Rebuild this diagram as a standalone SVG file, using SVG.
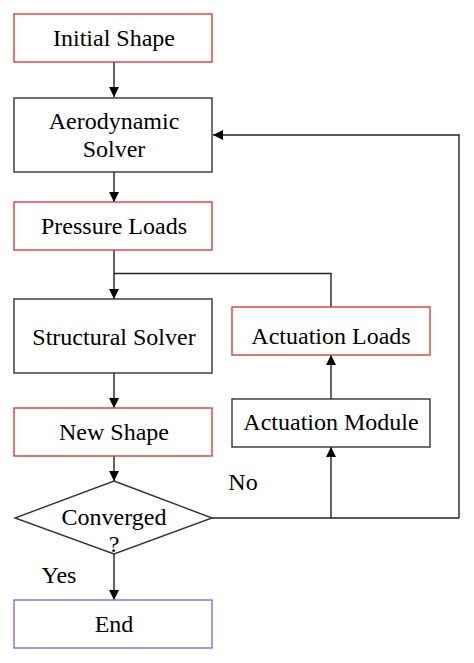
<svg xmlns="http://www.w3.org/2000/svg" width="474" height="663" viewBox="0 0 474 663">
<style>
.box{fill:#fff;stroke:#333;stroke-width:1.4}
.red{stroke:#e0393e}
.purple{stroke:#9966cc}
.t{font-family:"Liberation Serif","Times New Roman",serif;font-size:24px;fill:#000;text-anchor:middle}
.c{fill:none;stroke:#222;stroke-width:1.4}
</style>
<defs>
<marker id="ah" viewBox="0 0 10 10" refX="10" refY="5" markerWidth="10" markerHeight="10" markerUnits="userSpaceOnUse" orient="auto">
<path d="M0,0 L10,5 L0,10 z" fill="#000"/>
</marker>
</defs>
<rect width="474" height="663" fill="#fff"/>
<g id="connectors">
<line class="c" x1="114" y1="62" x2="114" y2="97" marker-end="url(#ah)"/>
<line class="c" x1="114" y1="172" x2="114" y2="202" marker-end="url(#ah)"/>
<line class="c" x1="114" y1="250" x2="114" y2="299" marker-end="url(#ah)"/>
<polyline class="c" points="331,307 331,273.5 114,273.5"/>
<line class="c" x1="114" y1="373" x2="114" y2="408" marker-end="url(#ah)"/>
<line class="c" x1="114" y1="456" x2="114" y2="481" marker-end="url(#ah)"/>
<line class="c" x1="114" y1="554" x2="114" y2="600" marker-end="url(#ah)"/>
<line class="c" x1="212" y1="518" x2="459" y2="518"/>
<line class="c" x1="331" y1="518" x2="331" y2="447" marker-end="url(#ah)"/>
<line class="c" x1="331" y1="399" x2="331" y2="355" marker-end="url(#ah)"/>
<polyline class="c" points="459,518 459,135 213,135" marker-end="url(#ah)"/>
</g>
<g id="initial-shape">
<rect class="box red" x="14" y="14" width="198" height="48"/>
<text class="t" x="114" y="46">Initial Shape</text>
</g>
<g id="aerodynamic-solver">
<rect class="box" x="14" y="98" width="198" height="74"/>
<text class="t" x="114" y="129">Aerodynamic</text>
<text class="t" x="114" y="157">Solver</text>
</g>
<g id="pressure-loads">
<rect class="box red" x="14" y="202" width="198" height="48"/>
<text class="t" x="114" y="234">Pressure Loads</text>
</g>
<g id="structural-solver">
<rect class="box" x="14" y="299" width="198" height="74"/>
<text class="t" x="114" y="345">Structural Solver</text>
</g>
<g id="new-shape">
<rect class="box red" x="14" y="408" width="198" height="48"/>
<text class="t" x="114" y="440">New Shape</text>
</g>
<g id="converged">
<polygon class="box" points="114,481 212,518 114,554 15,518"/>
<text class="t" x="114" y="525">Converged</text>
<text class="t" x="114" y="552">?</text>
</g>
<g id="end">
<rect class="box purple" x="14" y="600" width="198" height="48"/>
<text class="t" x="114" y="632">End</text>
</g>
<g id="actuation-loads">
<rect class="box red" x="232" y="307" width="198" height="48"/>
<text class="t" x="331" y="344">Actuation Loads</text>
</g>
<g id="actuation-module">
<rect class="box" x="232" y="399" width="198" height="48"/>
<text class="t" x="331" y="430">Actuation Module</text>
</g>
<g id="labels">
<text class="t" x="243" y="490">No</text>
<text class="t" x="59" y="583">Yes</text>
</g>
</svg>
